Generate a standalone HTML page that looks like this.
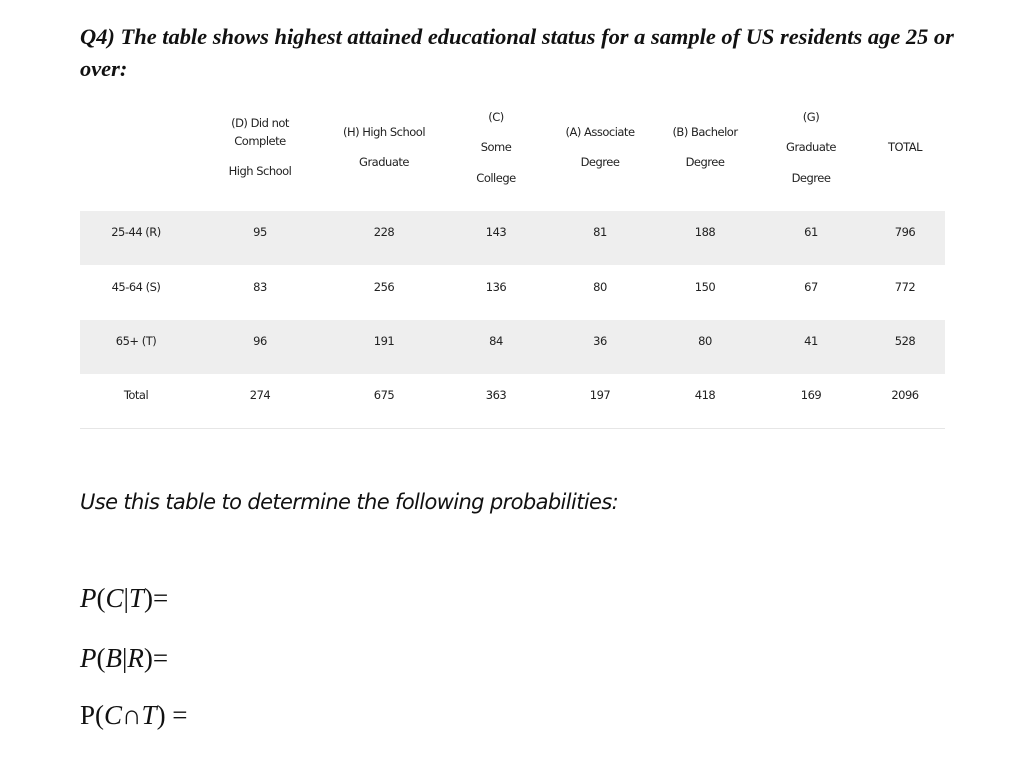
<!DOCTYPE html>
<html><head><meta charset="utf-8"><style>
body{margin:0;width:1024px;height:758px;background:#fff;position:relative;overflow:hidden;font-family:"DejaVu Sans","Liberation Sans",sans-serif;color:#222}
.a{position:absolute;white-space:nowrap}
.c{position:absolute;transform:translate(-50%,-50%);font-size:11.5px;letter-spacing:-0.5px;white-space:nowrap}
.t{font-family:"Liberation Serif",serif;font-weight:bold;font-style:italic;font-size:22.45px;color:#111}
.f{font-family:"Liberation Serif",serif;font-size:27px;color:#111}
</style></head><body>
<div class="a t" style="left:80px;top:24px">Q4) The table shows highest attained educational status for a sample of US residents age 25 or</div>
<div class="a t" style="left:80px;top:56px">over:</div>
<div class="a" style="left:80px;top:211px;width:865px;height:54px;background:#eeeeee"></div>
<div class="a" style="left:80px;top:320px;width:865px;height:54px;background:#eeeeee"></div>
<div class="a" style="left:80px;top:428px;width:865px;height:1px;background:#e6e6e6"></div>

<div class="c" style="left:260px;top:123px">(D) Did not</div>
<div class="c" style="left:260px;top:141px">Complete</div>
<div class="c" style="left:260px;top:171px">High School</div>
<div class="c" style="left:384px;top:132px">(H) High School</div>
<div class="c" style="left:384px;top:162px">Graduate</div>
<div class="c" style="left:496px;top:117px">(C)</div>
<div class="c" style="left:496px;top:147px">Some</div>
<div class="c" style="left:496px;top:178px">College</div>
<div class="c" style="left:600px;top:132px">(A) Associate</div>
<div class="c" style="left:600px;top:162px">Degree</div>
<div class="c" style="left:705px;top:132px">(B) Bachelor</div>
<div class="c" style="left:705px;top:162px">Degree</div>
<div class="c" style="left:811px;top:117px">(G)</div>
<div class="c" style="left:811px;top:147px">Graduate</div>
<div class="c" style="left:811px;top:178px">Degree</div>
<div class="c" style="left:905px;top:147px">TOTAL</div>

<div class="c" style="left:136px;top:232px">25-44 (R)</div><div class="c" style="left:260px;top:232px">95</div><div class="c" style="left:384px;top:232px">228</div><div class="c" style="left:496px;top:232px">143</div><div class="c" style="left:600px;top:232px">81</div><div class="c" style="left:705px;top:232px">188</div><div class="c" style="left:811px;top:232px">61</div><div class="c" style="left:905px;top:232px">796</div>
<div class="c" style="left:136px;top:287px">45-64 (S)</div><div class="c" style="left:260px;top:287px">83</div><div class="c" style="left:384px;top:287px">256</div><div class="c" style="left:496px;top:287px">136</div><div class="c" style="left:600px;top:287px">80</div><div class="c" style="left:705px;top:287px">150</div><div class="c" style="left:811px;top:287px">67</div><div class="c" style="left:905px;top:287px">772</div>
<div class="c" style="left:136px;top:341px">65+ (T)</div><div class="c" style="left:260px;top:341px">96</div><div class="c" style="left:384px;top:341px">191</div><div class="c" style="left:496px;top:341px">84</div><div class="c" style="left:600px;top:341px">36</div><div class="c" style="left:705px;top:341px">80</div><div class="c" style="left:811px;top:341px">41</div><div class="c" style="left:905px;top:341px">528</div>
<div class="c" style="left:136px;top:395px">Total</div><div class="c" style="left:260px;top:395px">274</div><div class="c" style="left:384px;top:395px">675</div><div class="c" style="left:496px;top:395px">363</div><div class="c" style="left:600px;top:395px">197</div><div class="c" style="left:705px;top:395px">418</div><div class="c" style="left:811px;top:395px">169</div><div class="c" style="left:905px;top:395px">2096</div>

<div class="a" style="left:80px;top:490px;font-size:21px;font-style:italic;letter-spacing:-0.62px;color:#111">Use this table to determine the following probabilities:</div>
<div class="a f" style="left:80px;top:583px"><i>P</i>(<i>C</i>|<i>T</i>)=</div>
<div class="a f" style="left:80px;top:643px"><i>P</i>(<i>B</i>|<i>R</i>)=</div>
<div class="a f" style="left:80px;top:700px">P(<i>C</i>∩<i>T</i>) =</div>
</body></html>
